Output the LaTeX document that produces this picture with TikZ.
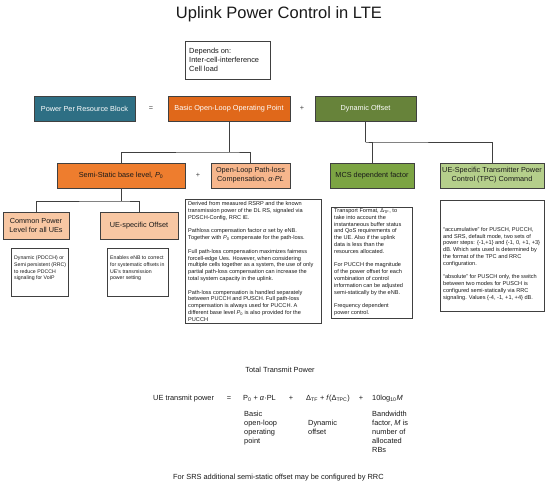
\documentclass[tikz,border=0pt]{standalone}
\usepackage{fontspec}
\setmainfont{Liberation Sans}
\definecolor{tealc}{HTML}{2E6F84}
\definecolor{orgD}{HTML}{E0681A}
\definecolor{olivec}{HTML}{67833A}
\definecolor{orgM}{HTML}{EE7D2E}
\definecolor{orgL}{HTML}{F6B68C}
\definecolor{grnM}{HTML}{7CA443}
\definecolor{grnL}{HTML}{B5CF8B}
\definecolor{peach}{HTML}{F8C7A3}
\definecolor{linec}{HTML}{404040}
\definecolor{txt}{HTML}{1A1A1A}
\tikzset{
  box/.style={draw=linec, line width=0.8pt, inner sep=1pt, minimum height=25pt, align=center,
              font=\fontsize{7.3}{8.8}\selectfont, text=txt},
  wbox/.style={box, text=white},
  plainbox/.style={draw=linec, line width=0.8pt, fill=white, inner sep=0pt},
  op/.style={font=\fontsize{7.3}{8.8}\selectfont, text=linec, inner sep=0pt},
  desc/.style={anchor=north west, align=left, inner sep=0pt, text=txt,
               font=\fontsize{5.6}{6.8}\selectfont},
  sdesc/.style={anchor=north west, align=left, inner sep=0pt, text=txt,
               font=\fontsize{5.2}{6.8}\selectfont},
  ftext/.style={inner sep=0pt, text=txt, font=\fontsize{7.4}{8.9}\selectfont},
  conn/.style={draw=linec, line width=0.8pt},
}
\begin{document}
\begin{tikzpicture}[x=1pt,y=-1pt]
\useasboundingbox[fill=white] (0,0) rectangle (550,484);

% title
\node[inner sep=0pt, text=txt, font=\fontsize{16.5}{20}\selectfont] (title) at (279,14) {Uplink Power Control in LTE};

% depends box
\node[plainbox, minimum width=85pt, minimum height=38pt] (dep) at (227.5,60) {};
\node[anchor=north west, align=left, inner sep=0pt, text=txt, font=\fontsize{7.4}{9}\selectfont] (deptext) at (189,48) {Depends on:\\Inter-cell-interference\\Cell load};

% row 2
\node[wbox, fill=tealc, minimum width=101pt] (pprb) at (84.5,108.5) {Power Per Resource Block};
\node[op] (eq1) at (151,108.5) {=};
\node[wbox, fill=orgD, minimum width=122pt] (basic) at (229,108.5) {Basic Open-Loop Operating Point};
\node[op] (plus1) at (302,108.5) {+};
\node[wbox, fill=olivec, minimum width=101pt] (dyn) at (365.5,108.5) {Dynamic Offset};

% row 3
\node[box, fill=orgM, minimum width=128pt] (semi) at (121,175.5) {Semi-Static base level, \textit{P}\textsubscript{0}};
\node[op] (plus2) at (198,175.5) {+};
\node[box, fill=orgL, minimum width=79pt] (ol) at (250.5,175.5) {Open-Loop Path-loss\\Compensation, \textit{α·PL}};
\node[box, fill=grnM, minimum width=84pt] (mcs) at (372,175.5) {MCS dependent factor};
\node[box, fill=grnL, minimum width=104pt, inner sep=0pt] (tpc) at (492,175.5) {UE-Specific Transmitter Power\\Control (TPC) Command};

% row 4
\node[box, fill=peach, minimum width=66pt, minimum height=27pt] (common) at (36,225.5) {Common Power\\Level for all UEs};
\node[box, fill=peach, minimum width=78pt, minimum height=27pt] (uespec) at (139,225.5) {UE-specific Offset};

% connectors
\coordinate (j0) at (229,152);
\coordinate (j1) at (121,201);
\coordinate (j2) at (365.5,142);
\draw[conn] (basic.south) -- (j0);
\draw[conn] (semi.north) |- (j0) -| (ol.north);
\draw[conn] (dyn.south) -- (j2);
\draw[conn] (mcs.north) |- (j2) -| (tpc.north);
\draw[conn] (semi.south) -- (j1);
\draw[conn] (common.north) |- (j1) -| (uespec.north);

% small description boxes
\node[plainbox, minimum width=57pt, minimum height=48pt] (dynbox) at (39.5,272) {};
\node[sdesc] (dyntext) at (14,255.5) {Dynamic (PDCCH) or\\Semi persistent (RRC)\\to reduce PDCCH\\signaling for VoIP};
\node[plainbox, minimum width=61pt, minimum height=48pt] (enbox) at (137.5,272) {};
\node[sdesc] (entext) at (110,255.5) {Enables eNB to correct\\for systematic offsets in\\UE's transmission\\power setting};

% middle description box
\node[plainbox, minimum width=136pt, minimum height=124pt] (midbox) at (253,261) {};
\node[desc] (midtext) at (188,201.5) {Derived from measured RSRP and the known\\transmission power of the DL RS, signaled via\\PDSCH-Config, RRC IE.\\[6.8pt]
Pathloss compensation factor \textit{α} set by eNB.\\Together with \textit{P}\textsubscript{0} compensate for the path-loss.\\[6.8pt]
Full path-loss compensation maximizes fairness\\forcell-edge Ues. However, when considering\\multiple cells together as a system, the use of only\\partial path-loss compensation can increase the\\total system capacity in the uplink.\\[6.8pt]
Path-loss compensation is handled separately\\between PUCCH and PUSCH. Full path-loss\\compensation is always used for PUCCH. A\\different base level \textit{P}\textsubscript{0} is also provided for the\\PUCCH};

% transport box
\node[plainbox, minimum width=81pt, minimum height=111pt] (trbox) at (371.5,262.5) {};
\node[desc] (trtext) at (334,208.5) {Transport Format, Δ\textsubscript{TF}, to\\take into account the\\instantaneous buffer status\\and QoS requirements of\\the UE. Also if the uplink\\data is less than the\\resources allocated.\\[6.8pt]
For PUCCH the magnitude\\of the power offset for each\\vombination of control\\information can be adjusted\\semi-statically by the eNB.\\[6.8pt]
Frequency dependent\\power control.};

% TPC box
\node[plainbox, minimum width=104pt, minimum height=111pt] (tpcbox) at (492,255.5) {};
\node[desc] (tpctext) at (443,227) {“accumulative” for PUSCH, PUCCH,\\and SRS, default mode, two sets of\\power steps: \{-1,+1\} and \{-1, 0, +1, +3\}\\dB. Which sets used is determined by\\the format of the TPC and RRC\\configuration.\\[6.8pt]
“absolute” for PUSCH only, the switch\\between two modes for PUSCH is\\configured semi-statically via RRC\\signaling. Values \{-4, -1, +1, +4\} dB.};

% bottom formula
\node[ftext] (total) at (280,370) {Total Transmit Power};
\node[ftext, anchor=base west] (ue) at (153,400.5) {UE transmit power};
\node[ftext, anchor=base] (eq2) at (229,400.5) {=};
\node[ftext, anchor=base west] (f1) at (243,400.5) {P\textsubscript{0} + \textit{α}·PL};
\node[ftext, anchor=base] (plus3) at (291,400.5) {+};
\node[ftext, anchor=base west] (f2) at (306,400.5) {Δ\textsubscript{TF} + \textit{f}(Δ\textsubscript{TPC})};
\node[ftext, anchor=base] (plus4) at (361,400.5) {+};
\node[ftext, anchor=base west] (f3) at (372,400.5) {10log\textsubscript{10}\textit{M}};

\node[ftext, anchor=north west, align=left] (d1) at (244,411) {Basic\\open-loop\\operating\\point};
\node[ftext, anchor=north west, align=left] (d2) at (308,420) {Dynamic\\offset};
\node[ftext, anchor=north west, align=left] (d3) at (372,411) {Bandwidth\\factor, \textit{M} is\\number of\\allocated\\RBs};

\node[ftext, anchor=west] (srs) at (173,478) {For SRS additional semi-static offset may be configured by RRC};
\end{tikzpicture}
\end{document}
